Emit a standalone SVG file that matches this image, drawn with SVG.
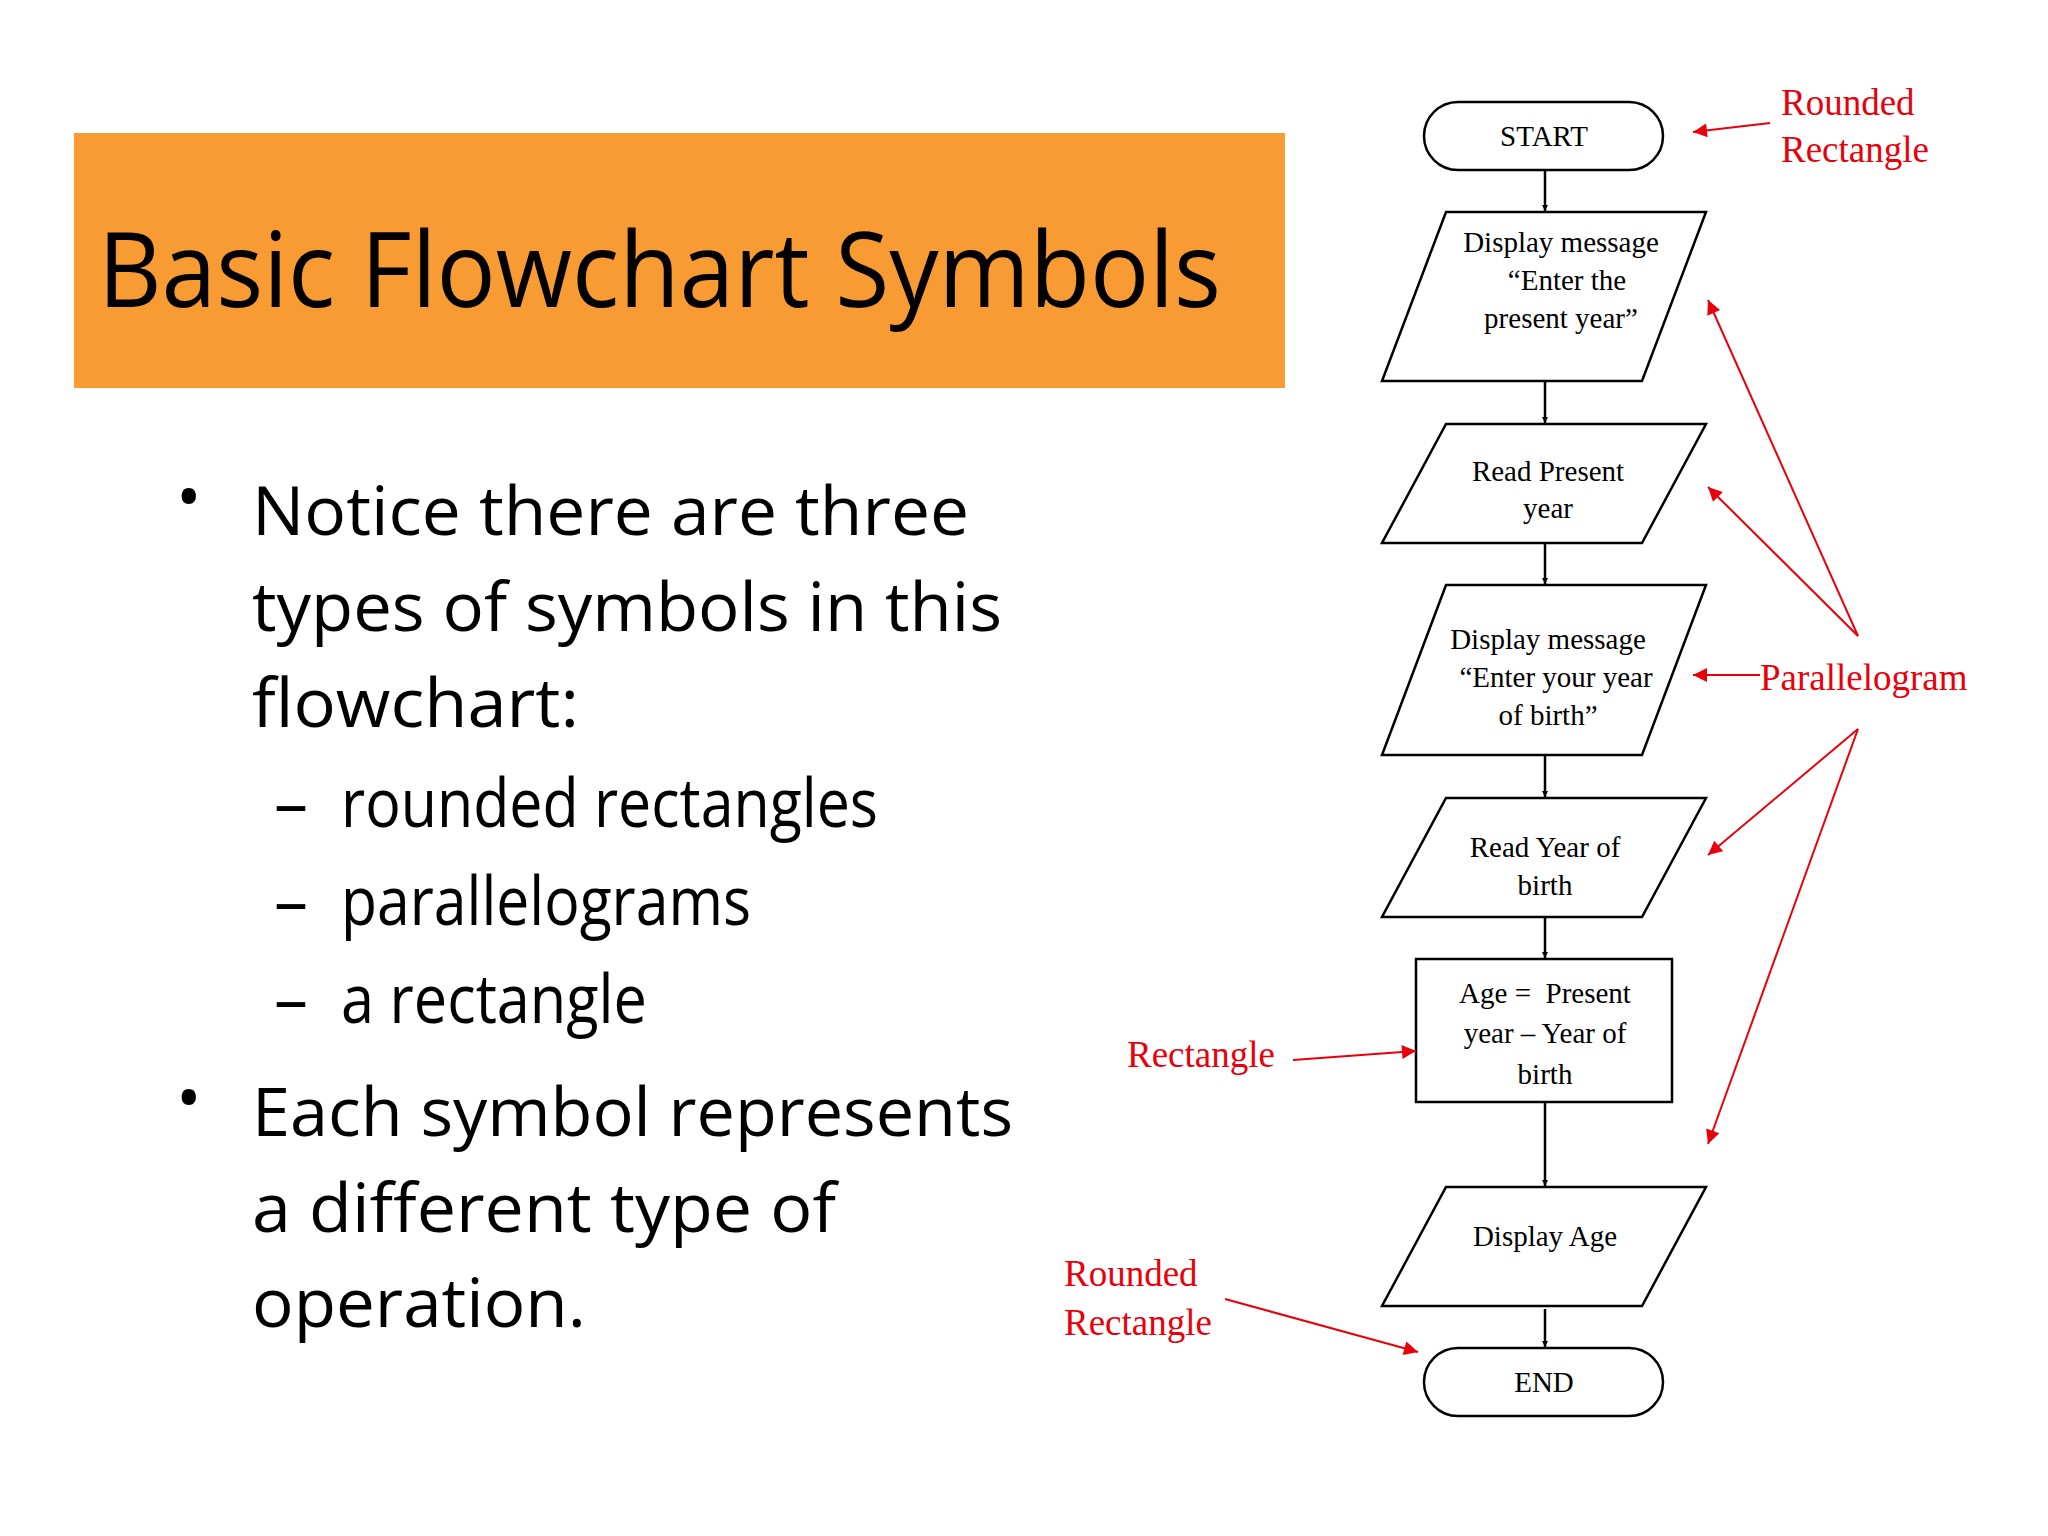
<svg xmlns="http://www.w3.org/2000/svg" width="2048" height="1536" viewBox="0 0 2048 1536">
<style>
.b{font-family:"Open Sans","Liberation Sans",sans-serif;font-size:68px;fill:#000}
.f{font-family:"Liberation Serif",serif;font-size:29px;fill:#000;text-anchor:middle}
.r{font-family:"Liberation Serif",serif;font-size:37px;fill:#e8000b}
.s{fill:#fff;stroke:#000;stroke-width:2.5}
.c{stroke:#000;stroke-width:2.5;fill:none}
.rc{stroke:#e8000b;stroke-width:2;fill:none}
</style>
<defs>
<marker id="ak" viewBox="0 0 10 10" refX="10" refY="5" markerWidth="6" markerHeight="6" markerUnits="userSpaceOnUse" orient="auto"><path d="M0,0 L10,5 L0,10 z" fill="#000"/></marker>
<marker id="ar" viewBox="0 0 10 10" refX="10" refY="5" markerWidth="18" markerHeight="14" markerUnits="userSpaceOnUse" orient="auto"><path d="M0,0 L10,5 L0,10 z" fill="#e8000b"/></marker>
</defs>
<rect width="2048" height="1536" fill="#fff"/>
<g id="title">
<rect x="74" y="133" width="1211" height="255" fill="#f99b33"/>
<text x="98" y="307" font-family="Open Sans,Liberation Sans,sans-serif" font-size="104" textLength="1123" lengthAdjust="spacingAndGlyphs">Basic Flowchart Symbols</text>
</g>
<g id="bullets">
<text class="b" x="176" y="521">•</text>
<text class="b" x="252" y="535" textLength="717" lengthAdjust="spacingAndGlyphs">Notice there are three</text>
<text class="b" x="252" y="631" textLength="750" lengthAdjust="spacingAndGlyphs">types of symbols in this</text>
<text class="b" x="252" y="727" textLength="327" lengthAdjust="spacingAndGlyphs">flowchart:</text>
<text class="b" x="274" y="827">–</text>
<text class="b" x="341" y="827" textLength="537" lengthAdjust="spacingAndGlyphs">rounded rectangles</text>
<text class="b" x="274" y="925">–</text>
<text class="b" x="341" y="925" textLength="410" lengthAdjust="spacingAndGlyphs">parallelograms</text>
<text class="b" x="274" y="1023">–</text>
<text class="b" x="341" y="1023" textLength="306" lengthAdjust="spacingAndGlyphs">a rectangle</text>
<text class="b" x="176" y="1122">•</text>
<text class="b" x="252" y="1136" textLength="761" lengthAdjust="spacingAndGlyphs">Each symbol represents</text>
<text class="b" x="252" y="1232" textLength="584" lengthAdjust="spacingAndGlyphs">a different type of</text>
<text class="b" x="252" y="1327" textLength="334" lengthAdjust="spacingAndGlyphs">operation.</text>
</g>
<g id="start"><rect class="s" x="1424" y="102" width="239" height="68" rx="34"/><text class="f" x="1544" y="146">START</text></g>
<g id="p1"><polygon class="s" points="1446,212 1706,212 1642,381 1382,381"/>
<text class="f" x="1561" y="252">Display message</text><text class="f" x="1567" y="290">“Enter the</text><text class="f" x="1561" y="328">present year”</text></g>
<g id="p2"><polygon class="s" points="1446,424 1706,424 1642,543 1382,543"/>
<text class="f" x="1548" y="481">Read Present</text><text class="f" x="1548" y="518">year</text></g>
<g id="p3"><polygon class="s" points="1446,585 1706,585 1642,755 1382,755"/>
<text class="f" x="1548" y="649">Display message</text><text class="f" x="1556" y="687">“Enter your year</text><text class="f" x="1548" y="725">of birth”</text></g>
<g id="p4"><polygon class="s" points="1446,798 1706,798 1642,917 1382,917"/>
<text class="f" x="1545" y="857">Read Year of</text><text class="f" x="1545" y="895">birth</text></g>
<g id="calc"><rect class="s" x="1416" y="959" width="256" height="143"/>
<text class="f" x="1545" y="1003" xml:space="preserve">Age =  Present</text><text class="f" x="1545" y="1043">year – Year of</text><text class="f" x="1545" y="1084">birth</text></g>
<g id="p5"><polygon class="s" points="1446,1187 1706,1187 1642,1306 1382,1306"/>
<text class="f" x="1545" y="1246">Display Age</text></g>
<g id="end"><rect class="s" x="1424" y="1348" width="239" height="68" rx="34"/><text class="f" x="1544" y="1392">END</text></g>
<g id="connectors">
<line class="c" x1="1545" y1="170" x2="1545" y2="211" marker-end="url(#ak)"/>
<line class="c" x1="1545" y1="381" x2="1545" y2="423" marker-end="url(#ak)"/>
<line class="c" x1="1545" y1="543" x2="1545" y2="584" marker-end="url(#ak)"/>
<line class="c" x1="1545" y1="755" x2="1545" y2="797" marker-end="url(#ak)"/>
<line class="c" x1="1545" y1="917" x2="1545" y2="958" marker-end="url(#ak)"/>
<line class="c" x1="1545" y1="1102" x2="1545" y2="1186" marker-end="url(#ak)"/>
<line class="c" x1="1545" y1="1309" x2="1545" y2="1347" marker-end="url(#ak)"/>
</g>
<g id="annotations">
<text class="r" x="1781" y="115">Rounded</text><text class="r" x="1781" y="162">Rectangle</text>
<line class="rc" x1="1770" y1="123" x2="1693" y2="132" marker-end="url(#ar)"/>
<text class="r" x="1760" y="690">Parallelogram</text>
<line class="rc" x1="1760" y1="675" x2="1693" y2="675" marker-end="url(#ar)"/>
<line class="rc" x1="1858" y1="636" x2="1708" y2="300" marker-end="url(#ar)"/>
<line class="rc" x1="1858" y1="636" x2="1708" y2="487" marker-end="url(#ar)"/>
<line class="rc" x1="1858" y1="729" x2="1708" y2="855" marker-end="url(#ar)"/>
<line class="rc" x1="1858" y1="729" x2="1708" y2="1144" marker-end="url(#ar)"/>
<text class="r" x="1127" y="1067">Rectangle</text>
<line class="rc" x1="1293" y1="1060" x2="1416" y2="1051" marker-end="url(#ar)"/>
<text class="r" x="1064" y="1286">Rounded</text><text class="r" x="1064" y="1335">Rectangle</text>
<line class="rc" x1="1225" y1="1299" x2="1418" y2="1352" marker-end="url(#ar)"/>
</g>
</svg>
